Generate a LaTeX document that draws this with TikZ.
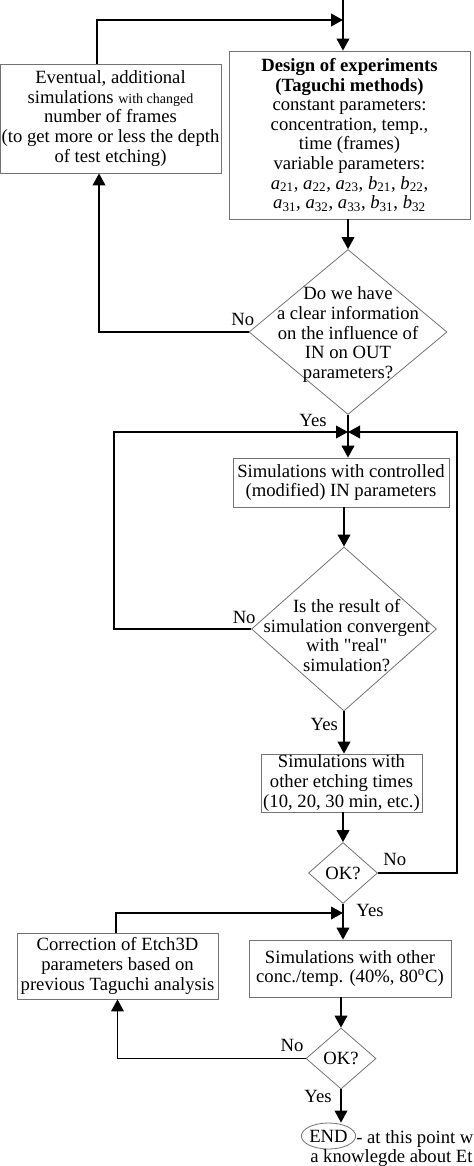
\documentclass[tikz,border=0pt]{standalone}
\usepackage{fontspec}
\setmainfont{Liberation Serif}[Ligatures=TeXOff]
\usepackage{tikz}
\usetikzlibrary{shapes.geometric, positioning, arrows.meta}
\tikzset{>={Triangle[length=9pt,width=9.5pt]}}
\tikzset{box/.style={rectangle, draw=black!55, line width=0.6pt, align=center, inner sep=0pt, font={\fontsize{14}{14.7}\selectfont}},
  dec/.style={diamond, draw=black!55, line width=0.6pt, inner sep=0pt, font={\fontsize{14}{14.7}\selectfont}},
  txt/.style={align=center, inner sep=0pt, font={\fontsize{14}{14.7}\selectfont}},
  flow/.style={->, line width=1.3pt}}
\newcommand{\prm}[2]{\textit{#1}\textsubscript{#2}}

\begin{document}
\begin{tikzpicture}[x=0.75pt, y=-0.75pt]
\useasboundingbox (0,0) rectangle (474,1166);
\node[box, minimum width=180.75pt, minimum height=126pt] at (349.5,135) (doe) {\textbf{Design of experiments}\\ \textbf{(Taguchi methods)}\\ constant parameters:\\ concentration, temp.,\\ time (frames)\\ variable parameters:\\ \prm{a}{21}, \prm{a}{22}, \prm{a}{23}, \prm{b}{21}, \prm{b}{22},\\ \prm{a}{31}, \prm{a}{32}, \prm{a}{33}, \prm{b}{31}, \prm{b}{32}};
\node[box, minimum width=165.75pt, minimum height=81.75pt] at (110.5,118.5) (evt) {Eventual, additional\\ simulations {\fontsize{10.5}{14.7}\selectfont with changed}\\ number of frames\\ (to get more or less the depth\\ of test etching)};
\node[dec, minimum width=148.5pt, minimum height=123.75pt] at (348,332) (d1) {};
\node[txt, yshift=-2pt] at (d1) (d1t) {Do we have\\ a clear information\\ on the influence of\\ IN on OUT\\ parameters?};
\node[box, minimum width=162pt, minimum height=36.75pt] at (341,482.5) (ctrl) {Simulations with controlled\\ (modified) IN parameters};
\node[dec, minimum width=138.75pt, minimum height=123pt] at (344,629) (d2) {};
\node[txt, xshift=2pt, yshift=-5pt] at (d2) (d2t) {Is the result of\\ simulation convergent\\ with "real"\\ simulation?};
\node[box, minimum width=120.75pt, minimum height=43.5pt] at (341.5,783) (times) {Simulations with\\ other etching times\\ (10, 20, 30 min, etc.)};
\node[dec, minimum width=51.75pt, minimum height=45.75pt] at (343,873) (ok1) {OK?};
\node[box, minimum width=151.5pt, minimum height=42.75pt] at (350,968.5) (conc) {Simulations with other\\ conc./temp. (40\%, 80\textsuperscript{o}C)};
\node[box, minimum width=150.75pt, minimum height=49.5pt] at (117.5,966) (corr) {Correction of Etch3D\\ parameters based on\\ previous Taguchi analysis};
\node[dec, minimum width=52.5pt, minimum height=45.75pt] at (341,1058.5) (ok2) {OK?};
\node[ellipse, draw=black!55, line width=0.6pt, inner sep=0pt, minimum width=38pt, minimum height=19.5pt, font={\fontsize{14}{14.7}\selectfont}] at (328.5,1136) (endn) {END};
\node[txt, anchor=base west] at (356,1143) (endt1) {- at this point w};
\node[txt, anchor=base west] at (310,1162) (endt2) {a knowlegde about Et};

\coordinate (start) at (343,0);
\coordinate (j0) at (343,20);
\coordinate (j1) at (348,432);
\coordinate (j2) at (343,913);

\draw[flow] (start) -- (start |- doe.north);
\draw[flow] ([xshift=-10pt]evt.north) |- (j0);
\draw[flow] (doe.south -| d1.north) -- (d1.north);
\draw[flow] (d1.west) node[txt, anchor=base east, xshift=4.9pt, yshift=5.25pt] (no1) {No}
  -| ([xshift=-8.6pt]evt.south);
\draw[flow] (d1.south) node[txt, anchor=base east, xshift=-15.4pt, yshift=-9pt] (yes1) {Yes}
  -- (d1.south |- ctrl.north);
\draw[flow] (ctrl.south -| d2.north) -- (d2.north);
\draw[flow] (d2.west) node[txt, anchor=base east, xshift=4pt, yshift=4.5pt] (no2) {No}
  -- ++(-137,0) |- (j1);
\draw[flow] (d2.south) node[txt, anchor=base east, xshift=-4pt, yshift=-14pt] (yes2) {Yes}
  -- (d2.south |- times.north);
\draw[flow] (times.south -| ok1.north) -- (ok1.north);
\draw[flow] (ok1.east) node[txt, anchor=base west, xshift=3.4pt, yshift=6pt] (no3) {No}
  -- ++(79,0) |- (j1);
\draw[flow] (ok1.south) node[txt, anchor=base west, xshift=9.4pt, yshift=-9.75pt] (yes3) {Yes}
  -- (ok1.south |- conc.north);
\draw[flow] ([xshift=-1pt]corr.north) |- (j2);
\draw[flow] (conc.south -| ok2.north) -- (ok2.north);
\draw[flow] (ok2.west) node[txt, anchor=base east, xshift=-1pt, yshift=5.25pt] (no4) {No}
  -| (corr.south);
\draw[flow] (ok2.south) node[txt, anchor=base east, xshift=-6.4pt, yshift=-9.75pt] (yes4) {Yes}
  -- (ok2.south |- endn.north);
\end{tikzpicture}
\end{document}
